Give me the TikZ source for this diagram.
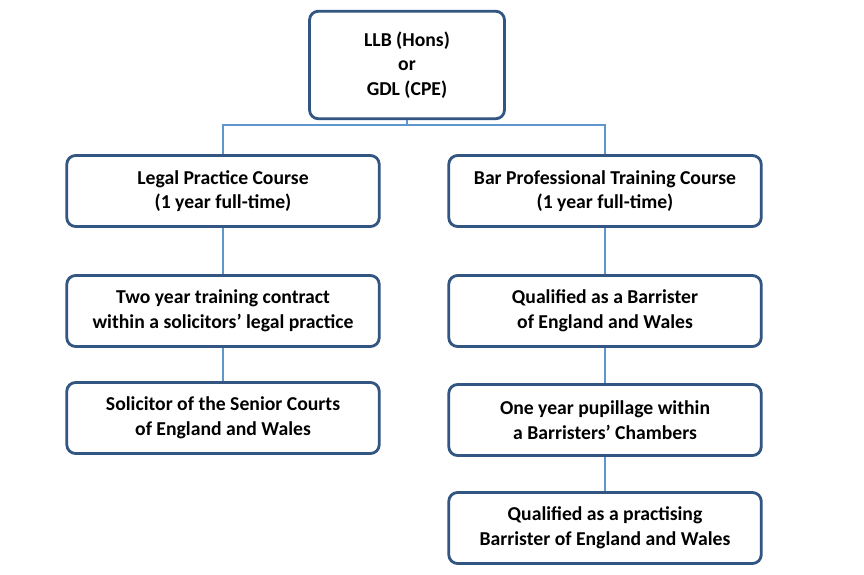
\documentclass[tikz,border=0pt]{standalone}
\usepackage{fontspec}
\setmainfont{Carlito}
\usetikzlibrary{positioning}
\definecolor{boxblue}{RGB}{50,85,130}
\definecolor{lineblue}{RGB}{95,150,205}
\begin{document}
\begin{tikzpicture}[x=0.02cm,y=-0.02cm,
  step_box/.style={draw=boxblue,line width=1.6pt,rounded corners=5pt,fill=white,
    minimum width=6.25cm,minimum height=1.42cm,align=center,font=\bfseries\fontsize{11.2}{14}\selectfont},
  link/.style={draw=lineblue,line width=1.1pt}]
\useasboundingbox (0,0) rectangle (864,574);

\node[step_box,minimum width=3.9cm,minimum height=2.15cm] (degree) at (407,65) {LLB (Hons)\\or\\GDL (CPE)};

\node[step_box] (lpc) at (223,191) {Legal Practice Course\\(1 year full-time)};
\node[step_box] (contract) at (223,311) {Two year training contract\\within a solicitors' legal practice};
\node[step_box] (solicitor) at (223,418) {Solicitor of the Senior Courts\\of England and Wales};

\node[step_box] (bptc) at (605,191) {Bar Professional Training Course\\(1 year full-time)};
\node[step_box] (barrister) at (605,311) {Qualified as a Barrister\\of England and Wales};
\node[step_box] (pupillage) at (605,420) {One year pupillage within\\a Barristers' Chambers};
\node[step_box] (practising) at (605,528) {Qualified as a practising\\Barrister of England and Wales};

\coordinate (split) at (407,125);
\draw[link] (degree.south) -- (split) -| (lpc.north);
\draw[link] (split) -| (bptc.north);
\draw[link] (lpc) -- (contract);
\draw[link] (contract) -- (solicitor);
\draw[link] (bptc) -- (barrister);
\draw[link] (barrister) -- (pupillage);
\draw[link] (pupillage) -- (practising);
\end{tikzpicture}
\end{document}
